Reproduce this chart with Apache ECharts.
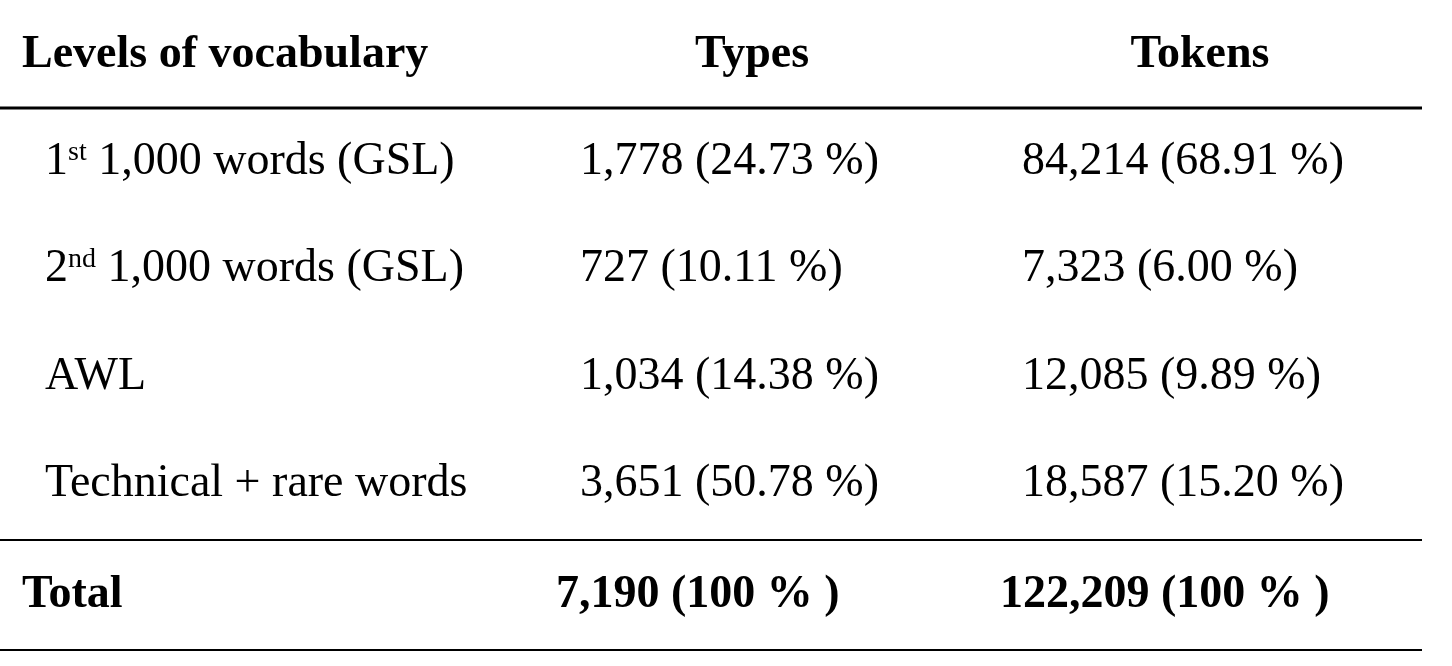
<!DOCTYPE html>
<html><head><meta charset="utf-8">
<script src="https://cdn.jsdelivr.net/npm/echarts@6/dist/echarts.min.js"></script>
<style>html,body{margin:0;background:#fff}#c{width:1452px;height:666px}</style>
</head><body><div id="c"></div>
<script>
const headers = ['Levels of vocabulary', 'Types', 'Tokens'];
// level label: [number, superscript, rest]
const levels = [['1', 'st', ' 1,000 words (GSL)'], ['2', 'nd', ' 1,000 words (GSL)'], ['', '', 'AWL'], ['', '', 'Technical + rare words']];
const types = ['1,778 (24.73 %)', '727 (10.11 %)', '1,034 (14.38 %)', '3,651 (50.78 %)'];
const tokens = ['84,214 (68.91 %)', '7,323 (6.00 %)', '12,085 (9.89 %)', '18,587 (15.20 %)'];
const total = ['Total', '7,190 (100 % )', '122,209 (100 % )'];

const chart = echarts.init(document.getElementById('c'));
const font = '"Liberation Serif", serif';
const fs = 46;
const g = [];
function txt(x, y, text, opts) {
  g.push({ type: 'text', x, y, style: Object.assign({ text, font: fs + 'px ' + font, fill: '#000', verticalAlign: 'middle', align: 'left' }, opts || {}) });
}
function line(y, w) {
  g.push({ type: 'line', shape: { x1: 0, y1: y, x2: 1422, y2: y }, style: { stroke: '#000', lineWidth: w } });
}
const bold = 'bold ' + fs + 'px ' + font;
txt(22, 55, headers[0], { font: bold });
txt(752, 55, headers[1], { font: bold, align: 'center' });
txt(1200, 55, headers[2], { font: bold, align: 'center' });
line(108, 3);
const rowY = [162, 269, 377, 484];
levels.forEach((l, i) => {
  const s = l[0] ? '{n|' + l[0] + '}{s|' + l[1] + '}{n|' + l[2] + '}' : '{n|' + l[2] + '}';
  g.push({ type: 'text', x: 45, y: rowY[i], style: { text: s, verticalAlign: 'middle', fill: '#000',
    rich: { n: { font: fs + 'px ' + font, fill: '#000' }, s: { font: '28px ' + font, fill: '#000', verticalAlign: 'top' } } } });
  txt(580, rowY[i], types[i]);
  txt(1022, rowY[i], tokens[i]);
});
line(540, 2);
txt(22, 595, total[0], { font: bold });
txt(556, 595, total[1], { font: bold });
txt(1000, 595, total[2], { font: bold });
line(650, 2);
chart.setOption({ backgroundColor: '#fff', graphic: g });
</script></body></html>
